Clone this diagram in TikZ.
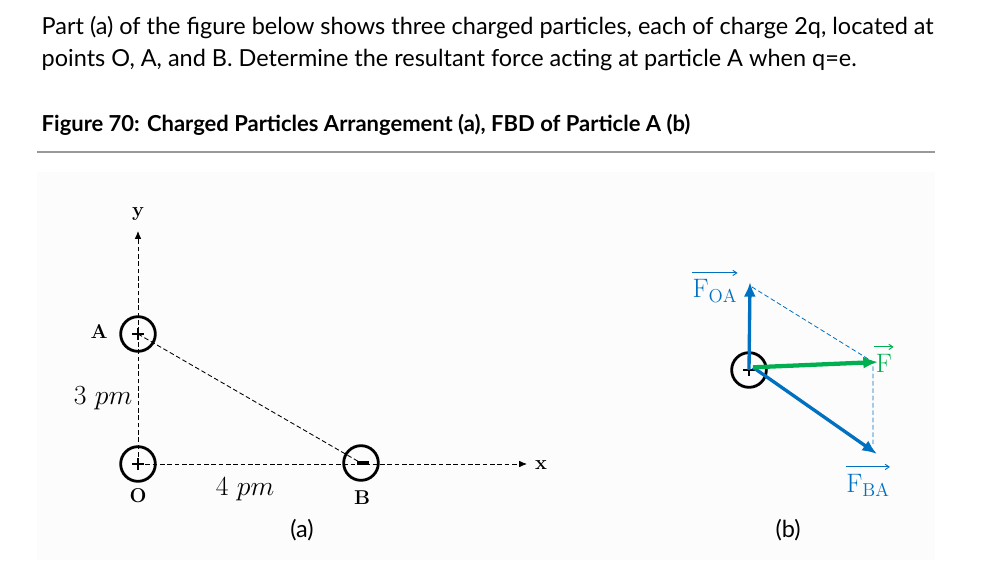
\documentclass[tikz,border=0pt]{standalone}
\usepackage{fontspec}
\newfontfamily\bodyfont{Lato}
\usetikzlibrary{positioning,arrows.meta}
\definecolor{vecblue}{RGB}{0,112,192}
\definecolor{vecgreen}{RGB}{0,176,80}
\begin{document}
\begin{tikzpicture}[x=0.75pt, y=-0.75pt,
  txt/.style={anchor=base west, font=\bodyfont\fontsize{17.6}{20}\selectfont},
  charge/.style={circle, draw, line width=2.1pt, minimum size=26pt, inner sep=0pt},
  axis/.style={dash pattern=on 3.5pt off 2pt, line width=0.65pt, -{Latex[length=6pt,width=5pt]}},
  guide/.style={dash pattern=on 3.5pt off 2pt, line width=0.65pt},
  tag/.style={font=\bfseries\fontsize{15}{17}\selectfont},
  vec/.style={line width=2.5pt, -{Latex[length=11pt,width=9pt]}, vecblue},
  flab/.style={anchor=base, inner sep=0pt, font=\fontsize{20}{22}\selectfont},
  over/.style={line width=0.7pt, -{Straight Barb[length=3pt,width=4pt]}}]
  \useasboundingbox (0,0) rectangle (1002,573);
  \fill[black!1] (37,172) rectangle (935,560);

  \node[txt] (l1) at (37,35) {Part (a) of the figure below shows three charged particles, each of charge 2q, located at};
  \node[txt] (l2) at (37,67) {points O, A, and B. Determine the resultant force acting at particle A when q=e.};
  \node[txt, font=\bodyfont\bfseries\fontsize{16.5}{19}\selectfont] (cap) at (37,132) {Figure 70: Charged Particles Arrangement (a), FBD of Particle A (b)};
  \draw[black!40, line width=1.4pt] (37,152) -- (935,152);

  % (a) the three charges
  \node[charge] (O) at (138,464) {};
  \node[charge] (A) at (138,334) {};
  \node[charge] (B) at (361,463) {};
  \coordinate (ytip) at (138,231);
  \coordinate (xtip) at (527,464);
  \draw[axis] (O.center) -- (ytip);
  \draw[axis] (O.center) -- (xtip);
  \draw[guide] (A.center) -- (B.center);
  \draw[line width=1.1pt] (132,464) -- (144,464) (138,458) -- (138,470);
  \draw[line width=1.1pt] (132,334) -- (144,334) (138,328) -- (138,340);
  \draw[line width=2.4pt] (357,463) -- (369,463);
  \node[tag] (ylab) at (138,214) {y};
  \node[tag] (xlab) at (541,465) {x};
  \node[tag] (Alab) at (99,332) {A};
  \node[tag] (Olab) at (138,496) {O};
  \node[tag] (Blab) at (362,498) {B};
  \node[font=\fontsize{21}{23}\selectfont] (dy) at (103,398) {$3\ pm$};
  \node[font=\fontsize{21}{23}\selectfont] (dx) at (245,489) {$4\ pm$};
  \node[txt, anchor=center] (pa) at (302,530) {(a)};

  % (b) free body diagram of A
  \node[charge] (P) at (749,370) {};
  \draw[line width=1.1pt] (743,370) -- (755,370) (749,364) -- (749,376);
  \coordinate (Foa) at (750,282);
  \coordinate (Fba) at (877,454);
  \coordinate (Fr) at (878,362);
  \draw[guide, vecblue, line width=0.6pt] (752,287) -- (873,362) -- (873,444);
  \draw[vec] (P.center) -- (Foa);
  \draw[vec] ([xshift=3,yshift=2]P.center) -- (Fba);
  \draw[vec, vecgreen, line width=3.2pt] ([xshift=3,yshift=2]P.center) -- (Fr);
  \node[vecblue, flab] (loa) at (715,298) {$\mathrm{F}_{\mathrm{OA}}$};
  \node[vecgreen, flab] (lr) at (884,372) {$\mathrm{F}$};
  \node[vecblue, flab] (lba) at (868,492) {$\mathrm{F}_{\mathrm{BA}}$};
  \draw[over, vecblue] ([yshift=5pt]loa.north west) -- ([yshift=5pt]loa.north east);
  \draw[over, vecgreen] ([xshift=-1pt,yshift=5pt]lr.north west) -- ([xshift=1pt,yshift=5pt]lr.north east);
  \draw[over, vecblue] ([yshift=5pt]lba.north west) -- ([yshift=5pt]lba.north east);
  \node[txt, anchor=center] (pb) at (788,530) {(b)};
\end{tikzpicture}
\end{document}
